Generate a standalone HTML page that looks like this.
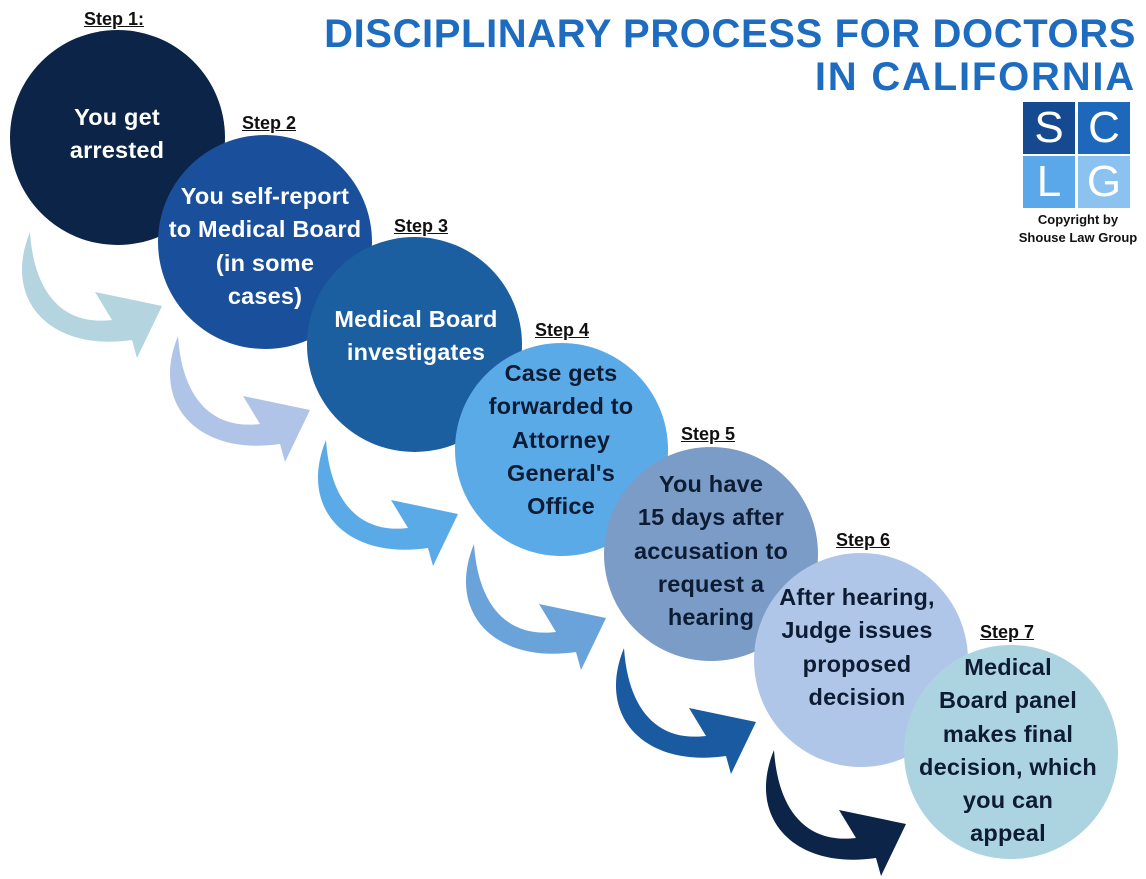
<!DOCTYPE html>
<html><head><meta charset="utf-8"><style>
body{margin:0;width:1146px;height:879px;background:#fff;position:relative;overflow:hidden;font-family:"Liberation Sans",sans-serif}
.c{position:absolute;border-radius:50%}
.t{position:absolute;text-align:center;font-weight:bold;font-size:23.5px;line-height:33.3px;white-space:nowrap;transform:translateX(-50%);letter-spacing:0.2px}
.s{position:absolute;font-weight:bold;font-size:18px;text-decoration:underline;color:#111}
.h{position:absolute;right:10px;color:#1d6cc0;font-weight:bold;font-size:40px;text-align:right}
.q{position:absolute;width:52px;height:52px;color:#fff;font-size:44px;text-align:center;line-height:52px;font-weight:normal}
</style></head><body>
<svg width="1146" height="879" style="position:absolute;left:0;top:0">
<defs><path id="a" d="M30,232 C2,300 50,352 132,340 L137,358 L162,306 L95,292 L112,320 C62,326 34,292 30,232 Z"/></defs>
<use href="#a" fill="#b4d4e0"/>
<use href="#a" fill="#b0c4e8" transform="translate(148,104)"/>
<use href="#a" fill="#5aaae8" transform="translate(296,208)"/>
<use href="#a" fill="#6aa3d9" transform="translate(444,312)"/>
<use href="#a" fill="#1a5aa0" transform="translate(594,416)"/>
<use href="#a" fill="#0c2448" transform="translate(744,518)"/>
</svg>
<div class="c" style="left:10px;top:30px;width:215px;height:215px;background:#0c2448"></div>
<div class="c" style="left:158px;top:135px;width:214px;height:214px;background:#1a4f9c"></div>
<div class="c" style="left:307px;top:237px;width:215px;height:215px;background:#1b5fa0"></div>
<div class="c" style="left:455px;top:343px;width:213px;height:213px;background:#5aaae8"></div>
<div class="c" style="left:604px;top:447px;width:214px;height:214px;background:#7b9cc6"></div>
<div class="c" style="left:754px;top:553px;width:214px;height:214px;background:#b0c6e8"></div>
<div class="c" style="left:904px;top:645px;width:214px;height:214px;background:#abd3e0"></div>

<div class="t" style="left:117px;top:101px;color:#fff">You get<br>arrested</div>
<div class="t" style="left:265px;top:180px;color:#fff">You self-report<br>to Medical Board<br>(in some<br>cases)</div>
<div class="t" style="left:416px;top:303px;color:#fff">Medical Board<br>investigates</div>
<div class="t" style="left:561px;top:357px;color:#0d1c33">Case gets<br>forwarded to<br>Attorney<br>General's<br>Office</div>
<div class="t" style="left:711px;top:468px;color:#0d1c33">You have<br>15 days after<br>accusation to<br>request a<br>hearing</div>
<div class="t" style="left:857px;top:581px;color:#0d1c33">After hearing,<br>Judge issues<br>proposed<br>decision</div>
<div class="t" style="left:1008px;top:651px;color:#0d1c33">Medical<br>Board panel<br>makes final<br>decision, which<br>you can<br>appeal</div>

<div class="s" style="left:84px;top:9px">Step 1:</div>
<div class="s" style="left:242px;top:113px">Step 2</div>
<div class="s" style="left:394px;top:216px">Step 3</div>
<div class="s" style="left:535px;top:320px">Step 4</div>
<div class="s" style="left:681px;top:424px">Step 5</div>
<div class="s" style="left:836px;top:530px">Step 6</div>
<div class="s" style="left:980px;top:622px">Step 7</div>

<div class="h" style="top:12px;letter-spacing:0.6px">DISCIPLINARY PROCESS FOR DOCTORS</div>
<div class="h" style="top:55px;letter-spacing:1.8px">IN CALIFORNIA</div>

<div class="q" style="left:1023px;top:102px;background:#164a90">S</div>
<div class="q" style="left:1078px;top:102px;background:#1d68bb">C</div>
<div class="q" style="left:1023px;top:156px;background:#5aa8ea">L</div>
<div class="q" style="left:1078px;top:156px;background:#8cc2ef">G</div>
<div style="position:absolute;left:1010px;top:211px;width:136px;text-align:center;font-weight:bold;font-size:13px;line-height:18px;color:#111">Copyright by<br>Shouse Law Group</div>
</body></html>
